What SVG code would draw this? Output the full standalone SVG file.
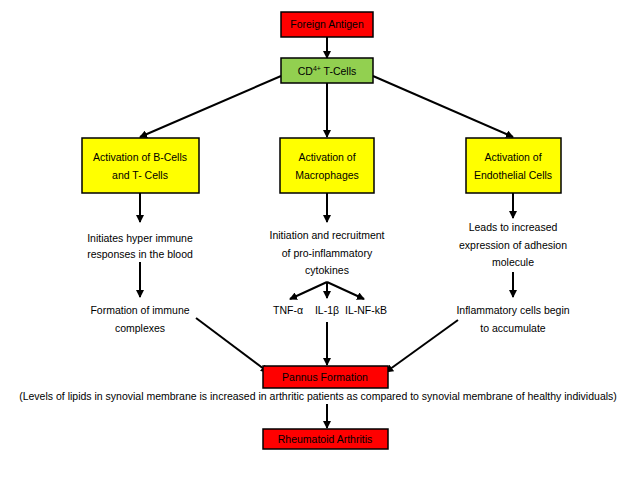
<svg xmlns="http://www.w3.org/2000/svg" width="638" height="478" viewBox="0 0 638 478">
<defs>
<marker id="ah" markerWidth="8" markerHeight="8" refX="7" refY="4" orient="auto" markerUnits="userSpaceOnUse"><path d="M0,0 L8,4 L0,8 z" fill="#000"/></marker>
<style>
.t{font-family:"Liberation Sans",Arial,sans-serif;font-size:10.5px;text-anchor:middle;fill:#000}
.r{fill:#ff0000;stroke:#000;stroke-width:1.5}
.g{fill:#92d050;stroke:#000;stroke-width:1.5}
.y{fill:#ffff00;stroke:#000;stroke-width:1.5}
.c line{stroke:#000;stroke-width:2;marker-end:url(#ah)}
</style>
</defs>
<rect width="638" height="478" fill="#fff"/>
<g class="c">
<line x1="327" y1="37" x2="327" y2="58"/>
<line x1="281" y1="76" x2="140" y2="137"/>
<line x1="327" y1="83" x2="327" y2="137"/>
<line x1="373" y1="76" x2="513" y2="137"/>
<line x1="140" y1="193" x2="140" y2="222"/>
<line x1="327" y1="193" x2="327" y2="222"/>
<line x1="513" y1="193" x2="513" y2="218"/>
<line x1="140" y1="262" x2="140" y2="297"/>
<line x1="513" y1="272" x2="513" y2="297"/>
<line x1="327" y1="282" x2="290" y2="299"/>
<line x1="327" y1="282" x2="327" y2="298"/>
<line x1="327" y1="282" x2="364" y2="299"/>
<line x1="196" y1="318" x2="268" y2="372"/>
<line x1="327" y1="322" x2="327" y2="365"/>
<line x1="458" y1="320" x2="386" y2="372"/>
<line x1="327" y1="404" x2="327" y2="428"/>
</g>
<g id="foreign"><rect class="r" x="281" y="12" width="92" height="25"/><text class="t" x="327" y="28">Foreign Antigen</text></g>
<g id="cd4"><rect class="g" x="281" y="58" width="92" height="25"/><text class="t" x="327" y="75">CD<tspan font-size="7" dy="-4">4+</tspan><tspan dy="4"> T-Cells</tspan></text></g>
<g id="bcells"><rect class="y" x="82" y="138" width="117" height="55"/><text class="t" x="140" y="161">Activation of B-Cells</text><text class="t" x="140" y="179">and T- Cells</text></g>
<g id="macro"><rect class="y" x="280" y="138" width="94" height="55"/><text class="t" x="327" y="161">Activation of</text><text class="t" x="327" y="179">Macrophages</text></g>
<g id="endo"><rect class="y" x="466" y="138" width="95" height="55"/><text class="t" x="513" y="161">Activation of</text><text class="t" x="513" y="179">Endothelial Cells</text></g>
<g id="hyper"><text class="t" x="140" y="242">Initiates hyper immune</text><text class="t" x="140" y="258">responses in the blood</text></g>
<g id="recruit"><text class="t" x="327" y="239">Initiation and recruitment</text><text class="t" x="327" y="257">of pro-inflammatory</text><text class="t" x="327" y="274">cytokines</text></g>
<g id="adhesion"><text class="t" x="513" y="231">Leads to increased</text><text class="t" x="513" y="249">expression of adhesion</text><text class="t" x="513" y="266">molecule</text></g>
<g id="complexes"><text class="t" x="140" y="314">Formation of immune</text><text class="t" x="140" y="332">complexes</text></g>
<g id="tnf"><text class="t" x="288" y="314">TNF-α</text></g>
<g id="il1"><text class="t" x="327" y="314">IL-1β</text></g>
<g id="ilnf"><text class="t" x="366" y="314">IL-NF-kB</text></g>
<g id="inflam"><text class="t" x="513" y="314">Inflammatory cells begin</text><text class="t" x="513" y="332">to accumulate</text></g>
<g id="pannus"><rect class="r" x="263" y="366" width="125" height="22"/><text class="t" x="325" y="381">Pannus Formation</text></g>
<g id="note"><text class="t" x="318" y="400" font-size="10">(Levels of lipids in synovial membrane  is increased in arthritic patients  as compared to synovial membrane  of healthy individuals)</text></g>
<g id="ra"><rect class="r" x="263" y="429" width="125" height="20"/><text class="t" x="325" y="443">Rheumatoid Arthritis</text></g>
</svg>
